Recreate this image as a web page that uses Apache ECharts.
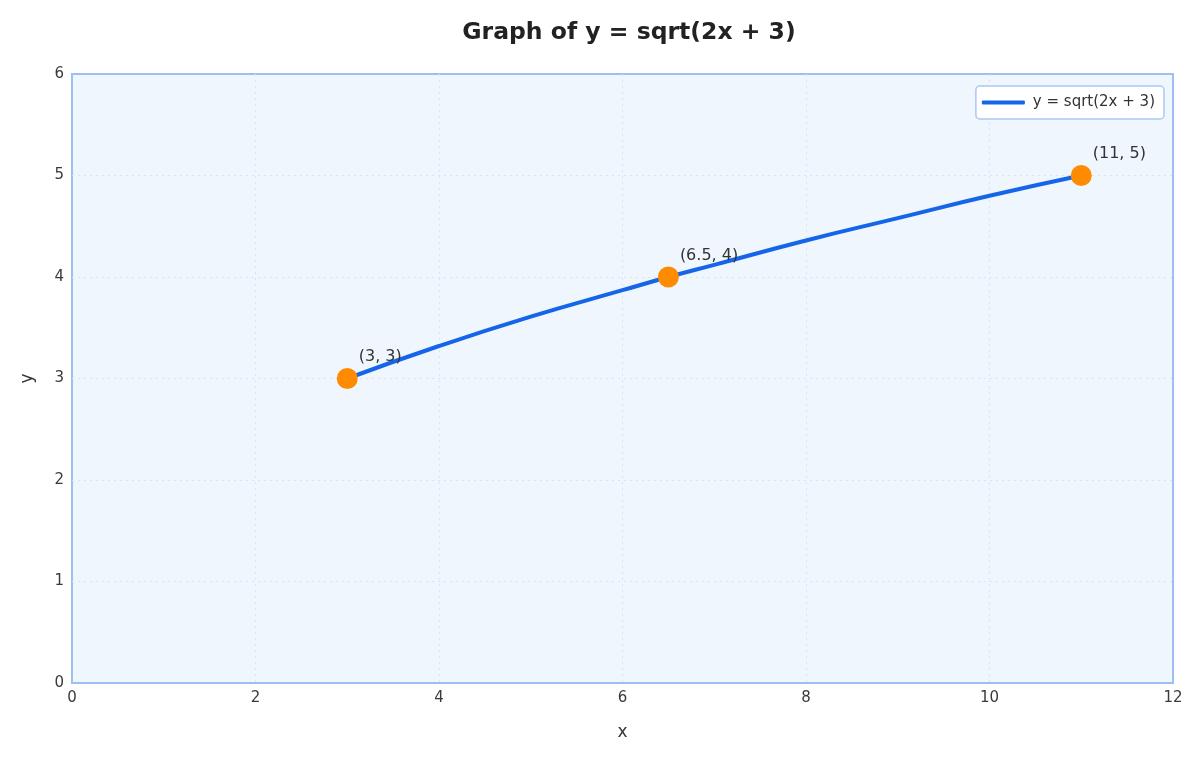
<!DOCTYPE html>
<html>
<head>
<meta charset="utf-8">
<script src="https://cdn.jsdelivr.net/npm/echarts@6/dist/echarts.min.js"></script>
<style>html,body{margin:0;padding:0;background:#fff}#c{width:1200px;height:760px}</style>
</head>
<body>
<div id="c"></div>
<script>
const titleText = 'Graph of y = sqrt(2x + 3)';
const seriesName = 'y = sqrt(2x + 3)';
const curveX = [3, 4, 5, 6, 6.5, 7, 8, 9, 10, 11];
const curveY = [3, 3.32, 3.61, 3.87, 4, 4.12, 4.36, 4.58, 4.80, 5];
const markX = [3, 6.5, 11];
const markY = [3, 4, 5];
const markLabels = ['(3, 3)', '(6.5, 4)', '(11, 5)'];

const font = '"DejaVu Sans", sans-serif';
const chart = echarts.init(document.getElementById('c'));
chart.setOption({
  animation: false,
  title: {
    text: titleText, left: 624, top: 16, textAlign: 'center',
    textStyle: { fontFamily: font, fontSize: 23.5, fontWeight: 'bold', color: '#222' }
  },
  legend: {
    data: [seriesName], right: 36, top: 86,
    backgroundColor: '#fff', borderColor: '#a9c8f5', borderWidth: 1.5, borderRadius: 4,
    padding: [9, 9, 9, 6],
    icon: 'roundRect', itemWidth: 43, itemHeight: 4, itemGap: 10,
    textStyle: { fontFamily: font, fontSize: 15, color: '#333', padding: [0, 0, 0, 3] }
  },
  grid: {
    left: 72, right: 27, top: 74, bottom: 77,
    show: true, backgroundColor: '#f0f6fe', borderColor: '#9dbff2', borderWidth: 2
  },
  xAxis: {
    type: 'value', min: 0, max: 12, interval: 2,
    name: 'x', nameLocation: 'middle', nameGap: 41,
    nameTextStyle: { fontFamily: font, fontSize: 17, color: '#333' },
    axisLine: { show: false }, axisTick: { show: false },
    axisLabel: { fontFamily: font, fontSize: 15, color: '#3a3a3a', margin: 8 },
    splitLine: { show: true, showMinLine: false, showMaxLine: false, lineStyle: { color: '#dde3ee', type: [2, 4], width: 1 } }
  },
  yAxis: {
    type: 'value', min: 0, max: 6, interval: 1,
    name: 'y', nameLocation: 'middle', nameGap: 36,
    nameTextStyle: { fontFamily: font, fontSize: 17, color: '#333' },
    axisLine: { show: false }, axisTick: { show: false },
    axisLabel: { fontFamily: font, fontSize: 15, color: '#3a3a3a', margin: 8 },
    splitLine: { show: true, showMinLine: false, showMaxLine: false, lineStyle: { color: '#dde3ee', type: [2, 4], width: 1 } }
  },
  series: [
    {
      name: seriesName, type: 'line', smooth: true, showSymbol: false,
      data: curveX.map((x, i) => [x, curveY[i]]),
      lineStyle: { color: '#1565e8', width: 4 }, itemStyle: { color: '#1565e8' },
      z: 2
    },
    {
      name: 'points', type: 'scatter', symbolSize: 21,
      data: markX.map((x, i) => [x, markY[i]]),
      itemStyle: { color: '#ff8c00', opacity: 1 },
      label: {
        show: true, position: [22, -11], align: 'left', verticalAlign: 'middle',
        fontFamily: font, fontSize: 16, color: '#333',
        formatter: p => markLabels[p.dataIndex]
      },
      z: 3
    }
  ]
});
</script>
</body>
</html>
